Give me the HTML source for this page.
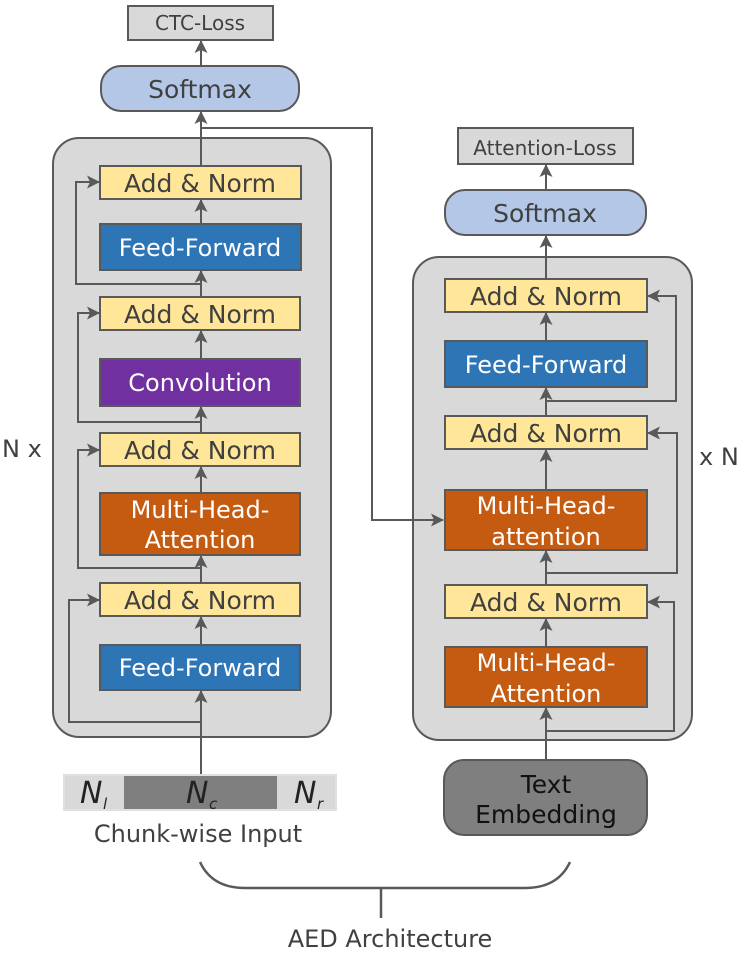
<!DOCTYPE html>
<html><head><meta charset="utf-8"><style>
html,body{margin:0;padding:0;background:#fff}
svg text{font-family:"DejaVu Sans","Liberation Sans",sans-serif}
</style></head><body>
<svg width="747" height="960" viewBox="0 0 747 960" xmlns="http://www.w3.org/2000/svg">
<defs>
<marker id="a" markerWidth="13" markerHeight="13" refX="12" refY="6.5" orient="auto" markerUnits="userSpaceOnUse">
<path d="M0,0 L13,6.5 L0,13 L3,6.5 Z" fill="#595959"/></marker>
</defs>
<g stroke="#595959" stroke-width="2">
<rect x="53" y="138" width="278" height="599" rx="26" fill="#d9d9d9"/>
<rect x="413" y="257" width="279" height="483" rx="26" fill="#d9d9d9"/>
<rect x="128" y="6" width="145" height="34" fill="#d9d9d9"/>
<rect x="101" y="66" width="198" height="45" rx="20" fill="#b4c7e7"/>
<rect x="458" y="128" width="175" height="36" fill="#d9d9d9"/>
<rect x="445" y="190" width="201" height="45" rx="20" fill="#b4c7e7"/>
</g>
<g stroke="#595959" stroke-width="2" fill="#ffe699">
<rect x="100" y="166" width="201" height="33"/>
<rect x="100" y="297" width="200" height="33"/>
<rect x="100" y="433" width="200" height="33"/>
<rect x="100" y="583" width="200" height="33"/>
<rect x="445" y="279" width="202" height="33"/>
<rect x="445" y="416" width="202" height="33"/>
<rect x="445" y="585" width="202" height="33"/>
</g>
<g stroke="#595959" stroke-width="2">
<rect x="100" y="224" width="201" height="46" fill="#2e75b6"/>
<rect x="100" y="359" width="200" height="47" fill="#7030a0"/>
<rect x="100" y="493" width="200" height="62" fill="#c55a11"/>
<rect x="100" y="645" width="200" height="45" fill="#2e75b6"/>
<rect x="445" y="341" width="202" height="46" fill="#2e75b6"/>
<rect x="445" y="490" width="202" height="60" fill="#c55a11"/>
<rect x="445" y="647" width="202" height="60" fill="#c55a11"/>
<rect x="444" y="760" width="203" height="75" rx="20" fill="#7f7f7f"/>
</g>
<g fill="none" stroke="#595959" stroke-width="2">
<line x1="201" y1="66" x2="201" y2="41" marker-end="url(#a)"/>
<line x1="201" y1="166" x2="201" y2="112" marker-end="url(#a)"/>
<polyline points="201,128 372,128 372,520 443,520" marker-end="url(#a)"/>
<line x1="201" y1="224" x2="201" y2="200" marker-end="url(#a)"/>
<line x1="201" y1="297" x2="201" y2="271" marker-end="url(#a)"/>
<line x1="201" y1="359" x2="201" y2="331" marker-end="url(#a)"/>
<line x1="201" y1="433" x2="201" y2="407" marker-end="url(#a)"/>
<line x1="201" y1="493" x2="201" y2="467" marker-end="url(#a)"/>
<line x1="201" y1="583" x2="201" y2="556" marker-end="url(#a)"/>
<line x1="201" y1="645" x2="201" y2="617" marker-end="url(#a)"/>
<line x1="201" y1="775" x2="201" y2="691" marker-end="url(#a)"/>
<polyline points="201,284 76,284 76,182 99,182" marker-end="url(#a)"/>
<polyline points="201,422 78,422 78,313 99,313" marker-end="url(#a)"/>
<polyline points="201,568 78,568 78,450 99,450" marker-end="url(#a)"/>
<polyline points="201,722 69,722 69,600 99,600" marker-end="url(#a)"/>
<line x1="546" y1="190" x2="546" y2="165" marker-end="url(#a)"/>
<line x1="546" y1="279" x2="546" y2="236" marker-end="url(#a)"/>
<line x1="546" y1="341" x2="546" y2="313" marker-end="url(#a)"/>
<line x1="546" y1="416" x2="546" y2="388" marker-end="url(#a)"/>
<line x1="546" y1="490" x2="546" y2="450" marker-end="url(#a)"/>
<line x1="546" y1="585" x2="546" y2="551" marker-end="url(#a)"/>
<line x1="546" y1="647" x2="546" y2="619" marker-end="url(#a)"/>
<line x1="546" y1="760" x2="546" y2="708" marker-end="url(#a)"/>
<polyline points="546,401 676,401 676,296 648,296" marker-end="url(#a)"/>
<polyline points="546,573 677,573 677,433 648,433" marker-end="url(#a)"/>
<polyline points="546,731 674,731 674,602 648,602" marker-end="url(#a)"/>
<path d="M200,862 Q212,888 245,888 L525,888 Q558,888 570,862" stroke-width="2.5"/>
<line x1="381" y1="888" x2="381" y2="918" stroke-width="2.5"/>
</g>
<rect x="64" y="775" width="272" height="35" fill="#d9d9d9" stroke="#e0e0e0" stroke-width="2"/>
<rect x="124" y="776" width="153" height="33" fill="#7f7f7f"/>
<g font-family="Liberation Serif,serif" font-style="italic" fill="#222">
<text x="80" y="803" font-size="30">N</text><text x="103" y="809" font-size="15">l</text>
<text x="186" y="803" font-size="30">N</text><text x="209" y="809" font-size="15">c</text>
<text x="294" y="803" font-size="30">N</text><text x="317" y="809" font-size="15">r</text>
</g>
<g text-anchor="middle" fill="#404040">
<text x="200" y="30" font-size="20">CTC-Loss</text>
<text x="200" y="98" font-size="25">Softmax</text>
<text x="545" y="155" font-size="20">Attention-Loss</text>
<text x="545" y="222" font-size="25">Softmax</text>
<text x="200" y="192" font-size="25">Add &amp; Norm</text>
<text x="200" y="323" font-size="25">Add &amp; Norm</text>
<text x="200" y="459" font-size="25">Add &amp; Norm</text>
<text x="200" y="609" font-size="25">Add &amp; Norm</text>
<text x="546" y="305" font-size="25">Add &amp; Norm</text>
<text x="546" y="442" font-size="25">Add &amp; Norm</text>
<text x="546" y="611" font-size="25">Add &amp; Norm</text>
<text x="198" y="842" font-size="24">Chunk-wise Input</text>
<text x="390" y="947" font-size="24">AED Architecture</text>
</g>
<g text-anchor="middle" fill="#fff" font-size="24">
<text x="200" y="256">Feed-Forward</text>
<text x="200" y="391">Convolution</text>
<text x="200" y="518">Multi-Head-</text>
<text x="200" y="548">Attention</text>
<text x="200" y="676">Feed-Forward</text>
<text x="546" y="373">Feed-Forward</text>
<text x="546" y="514">Multi-Head-</text>
<text x="546" y="545">attention</text>
<text x="546" y="671">Multi-Head-</text>
<text x="546" y="702">Attention</text>
</g>
<g text-anchor="middle" fill="#111" font-size="25">
<text x="546" y="793">Text</text>
<text x="546" y="823">Embedding</text>
</g>
<text x="2" y="457" font-size="24" fill="#404040">N x</text>
<text x="699" y="465" font-size="24" fill="#404040">x N</text>
</svg>
</body></html>
